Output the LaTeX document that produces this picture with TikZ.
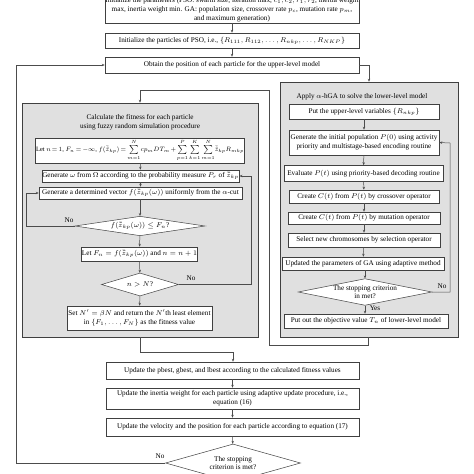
\documentclass[tikz,border=0pt]{standalone}
\usepackage{fontspec}
\usepackage{graphicx}
\setmainfont{Liberation Serif}
\usetikzlibrary{shapes.geometric,arrows.meta}
\DeclareMathSizes{7.2}{7}{5}{4}
\newcommand\fs{\fontsize{7.2}{8.8}\selectfont}
\newcommand\zz{\bar{\tilde z}}
\begin{document}
\begin{tikzpicture}[x=1pt,y=-1pt,
  bx/.style={draw=black!75,fill=white,line width=0.5pt,align=center,font=\fs,inner sep=0.5pt},
  grp/.style={draw=black!75,fill=black!12,line width=0.5pt,inner sep=0pt},
  dia/.style={diamond,draw=black!75,fill=white,line width=0.5pt,align=center,font=\fs,inner sep=0pt,aspect=5},
  ln/.style={draw=black!70,line width=0.5pt},
  ar/.style={ln,-{Stealth[length=3pt,width=2.4pt]}},
  lab/.style={font=\fs,inner sep=0.5pt},
  ttl/.style={font=\fs,align=center,inner sep=0pt}
]
\useasboundingbox (0,0) rectangle (474,474);
\clip (0,0) rectangle (474,474);
\fill[white] (0,0) rectangle (474,474);

% main chain top
\node[bx,minimum width=254pt,minimum height=27pt] (init) at (232,9.5) {Initialize the parameters (PSO: swarm size, iteration max, $c_1, c_2, r_1, r_2$, inertia weight\\ max, inertia weight min. GA: population size, crossover rate $p_c$, mutation rate $p_m$,\\ and maximum generation)};
\node[bx,minimum width=254pt,minimum height=15pt] (initp) at (232,40.5) {Initialize the particles of PSO, i.e., $\{R_{111}, R_{112}, \ldots, R_{nkp}, \ldots, R_{NKP}\}$};
\node[bx,minimum width=254pt,minimum height=16pt] (obtain) at (232,65) {Obtain the position of each particle for the upper-level model};

% groups
\node[grp,minimum width=236pt,minimum height=234pt] (lg) at (140,220) {};
\node[grp,minimum width=178pt,minimum height=255pt] (rg) at (369,209.5) {};

% left group
\node[ttl] (lt) at (140,122) {Calculate the fitness for each particle\\ using fuzzy random simulation procedure};
\node[bx,minimum width=194pt,minimum height=25pt] (let) at (140,150.5) {\scalebox{0.9}{\thickmuskip=3mu\medmuskip=2mu Let $n=1$, $F_n=-\infty$, $f(\zz_{kp})=\sum\limits_{m=1}^{N}\! cp_m DT_m+\sum\limits_{p=1}^{P}\sum\limits_{k=1}^{K}\sum\limits_{m=1}^{N}\!\zz_{kp}R_{mkp}$}};
\node[bx,minimum width=195pt,minimum height=12pt] (genw) at (140.5,176) {Generate $\omega$ from $\Omega$ according to the probability measure $P_r$ of $\zz_{kp}$};
\node[bx,minimum width=203pt,minimum height=12pt] (gendet) at (140.5,193) {Generate a determined vector $f(\zz_{kp}(\omega))$ uniformly from the $\alpha$-cut};
\node[dia,minimum width=130pt,minimum height=19pt] (d1) at (140,226) {$f(\zz_{kp}(\omega))\le F_n$?};
\node[bx,minimum width=109pt,minimum height=14pt] (letF) at (139.5,254) {Let $F_n=f(\zz_{kp}(\omega))$ and $n=n+1$};
\node[dia,minimum width=77pt,minimum height=23pt] (d2) at (140,284.5) {$n>N$?};
\node[bx,minimum width=145pt,minimum height=24pt] (setN) at (139.5,318) {Set $N'=\beta N$ and return the $N'$th least element\\ in $\{F_1,\ldots,F_N\}$ as the fitness value};

% right group
\node[ttl] (rt) at (362,97) {Apply $\alpha$-hGA to solve the lower-level model};
\node[bx,minimum width=150pt,minimum height=15pt] (put) at (364,111.5) {Put the upper-level variables $\{R_{nkp}\}$};
\node[bx,minimum width=150pt,minimum height=25pt] (geni) at (364,142.5) {Generate the initial population $P(0)$ using activity\\ priority and multistage-based encoding routine};
\node[bx,minimum width=159pt,minimum height=16pt] (eval) at (363.5,173.5) {Evaluate $P(t)$ using priority-based decoding routine};
\node[bx,minimum width=150pt,minimum height=13pt] (cross) at (364,196.5) {Create $C(t)$ from $P(t)$ by crossover operator};
\node[bx,minimum width=152pt,minimum height=12pt] (mut) at (364,218) {Create $C(t)$ from $P(t)$ by mutation operator};
\node[bx,minimum width=152pt,minimum height=14pt] (sel) at (364,240) {Select new chromosomes by selection operator};
\node[bx,minimum width=162pt,minimum height=13pt] (upd) at (363,263.5) {Updated the parameters of GA using adaptive method};
\node[dia,minimum width=115pt,minimum height=25pt] (d3) at (365,292) {The stopping criterion\\ in met?};
\node[bx,minimum width=164pt,minimum height=14pt] (out) at (366,321) {Put out the objective value $T_n$ of lower-level model};

% bottom
\node[bx,minimum width=253pt,minimum height=17pt] (pbest) at (232.5,370.5) {Update the pbest, gbest, and lbest according to the calculated fitness values};
\node[bx,minimum width=253pt,minimum height=21pt] (inertia) at (232.5,398.5) {Update the inertia weight for each particle using adaptive update procedure, i.e.,\\ equation (16)};
\node[bx,minimum width=253pt,minimum height=18pt] (vel) at (232.5,427) {Update the velocity and the position for each particle according to equation (17)};
\node[dia,minimum width=135pt,minimum height=38pt] (d4) at (233,463) {The stopping\\ criterion is met?};

% connectors main
\draw[ar] (init) -- (initp);
\draw[ar] (initp) -- (obtain);
\draw[ar] (d4.west) -- (16,463) -- (16,65) -- (obtain.west);
\node[lab] (no4) at (160,456) {No};
\draw[ar] (obtain.east) -- (369,65) -- (rg.north -| 369,0);
\draw[ar] (rg.south -| 368,0) -- (368,345) -- (269,345) -- (269,90) -- (140,90) -- (lg.north);
\draw[ar] (lg.south) -- (140,352) -- (233,352) -- (pbest.north -| 233,0);
\draw[ar] (pbest) -- (inertia);
\draw[ar] (inertia) -- (vel);
\draw[ar] (vel) -- (d4);

% left connectors
\draw[ar] (let) -- (genw);
\draw[ar] (genw) -- (gendet);
\draw[ar] (gendet.south -| d1.north) -- (d1.north);
\draw[ar] (d1) -- (letF);
\draw[ar] (letF) -- (d2);
\draw[ar] (d2) -- (setN);
\draw[ar] (d1.west) -- (26,226) -- (26,193) -- (gendet.west);
\node[lab] (no1) at (69,220.5) {No};
\draw[ar] (d2.east) -- (251,284.5) -- (251,176) -- (genw.east);
\node[lab] (no2) at (191,278.5) {No};

% right connectors
\draw[ar] (put) -- (geni);
\draw[ar] (geni) -- (eval);
\draw[ar] (eval) -- (cross);
\draw[ar] (cross) -- (mut);
\draw[ar] (mut) -- (sel);
\draw[ar] (sel) -- (upd);
\draw[ar] (upd.south -| d3.north) -- (d3.north);
\draw[ar] (d3.south) -- (out.north -| d3.south);
\node[lab] (yes) at (375,308.5) {Yes};
\draw[ar] (d3.east) -- (450,292) -- (450,143) -- (geni.east);
\node[lab] (no3) at (442,286.5) {No};
\end{tikzpicture}
\end{document}
